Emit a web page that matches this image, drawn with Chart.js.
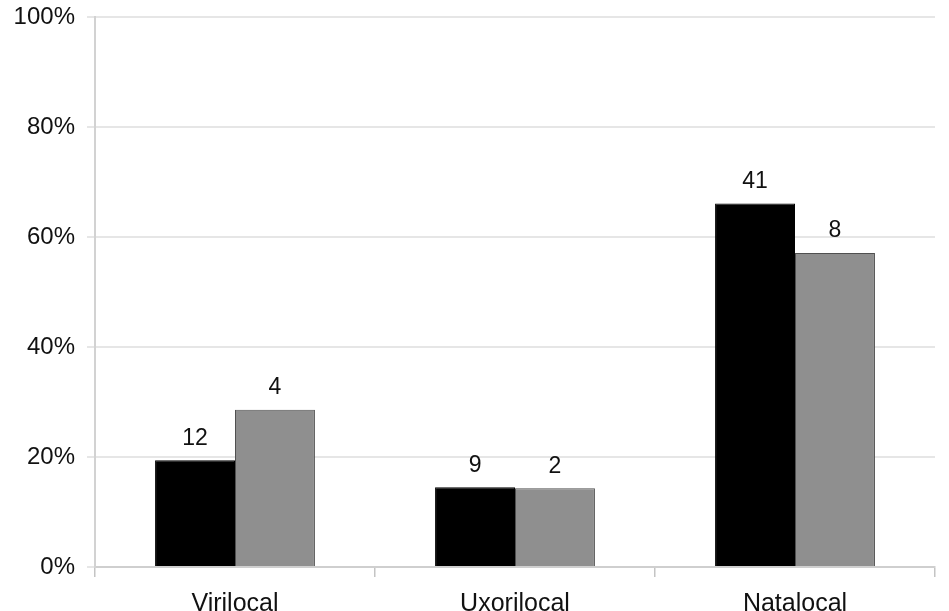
<!DOCTYPE html>
<html>
<head>
<meta charset="utf-8">
<script src="https://cdn.jsdelivr.net/npm/chart.js@4/dist/chart.umd.min.js"></script>
<style>
html,body{margin:0;padding:0;background:#fff;}
#wrap{width:949px;height:611px;position:relative;overflow:hidden;}
</style>
</head>
<body>
<div id="wrap"><canvas id="c"></canvas></div>
<script>
const categories = ["Virilocal", "Uxorilocal", "Natalocal"];
const blackPercent = [19.4, 14.5, 66.1];
const grayPercent = [28.6, 14.3, 57.1];
const blackCounts = [12, 9, 41];
const grayCounts = [4, 2, 8];
const yTicks = [0, 20, 40, 60, 80, 100];

const countLabels = {
  id: 'countLabels',
  afterDatasetsDraw(chart) {
    const ctx = chart.ctx;
    ctx.save();
    ctx.font = '23px "Liberation Sans", Arial, sans-serif';
    ctx.fillStyle = '#111';
    ctx.textAlign = 'center';
    ctx.textBaseline = 'middle';
    chart.data.datasets.forEach((ds, i) => {
      const meta = chart.getDatasetMeta(i);
      meta.data.forEach((el, j) => {
        ctx.fillText(String(ds.counts[j]), el.x, el.y - 22);
      });
    });
    ctx.restore();
  }
};

new Chart(document.getElementById('c'), {
  type: 'bar',
  data: {
    labels: categories,
    datasets: [
      { data: blackPercent, counts: blackCounts, backgroundColor: '#000000', borderColor: '#000000', borderWidth: 1, categoryPercentage: 0.571, barPercentage: 1.0 },
      { data: grayPercent, counts: grayCounts, backgroundColor: '#8f8f8f', borderColor: '#505050', borderWidth: 1, categoryPercentage: 0.571, barPercentage: 1.0 }
    ]
  },
  options: {
    responsive: true,
    maintainAspectRatio: false,
    animation: false,
    layout: { padding: { top: 17, right: 14, left: 0, bottom: 0 } },
    plugins: { legend: { display: false }, tooltip: { enabled: false } },
    scales: {
      x: {
        offset: true,
        grid: { display: true, offset: true, drawOnChartArea: false, drawTicks: true, tickLength: 10, color: '#c4c4c4', lineWidth: 1.5 },
        border: { display: true, color: '#cfcfcf', width: 2 },
        ticks: { color: '#111', padding: 12, font: { family: '"Liberation Sans", Arial, sans-serif', size: 25 } },
        afterFit(scale) { scale.height = 44; scale.paddingLeft = 0; scale.paddingRight = 0; }
      },
      y: {
        min: 0, max: 100,
        afterBuildTicks(scale) { scale.ticks = yTicks.map(v => ({ value: v })); },
        grid: { color: '#e6e6e6', lineWidth: 2, drawTicks: true, tickLength: 8 },
        border: { display: true, color: '#d2d2d2', width: 2 },
        ticks: { color: '#111', padding: 12, font: { family: '"Liberation Sans", Arial, sans-serif', size: 24 }, callback: v => v + '%' },
        afterFit(scale) { scale.width = 95; scale.paddingTop = 0; scale.paddingBottom = 0; }
      }
    }
  },
  plugins: [countLabels]
});
</script>
</body>
</html>
